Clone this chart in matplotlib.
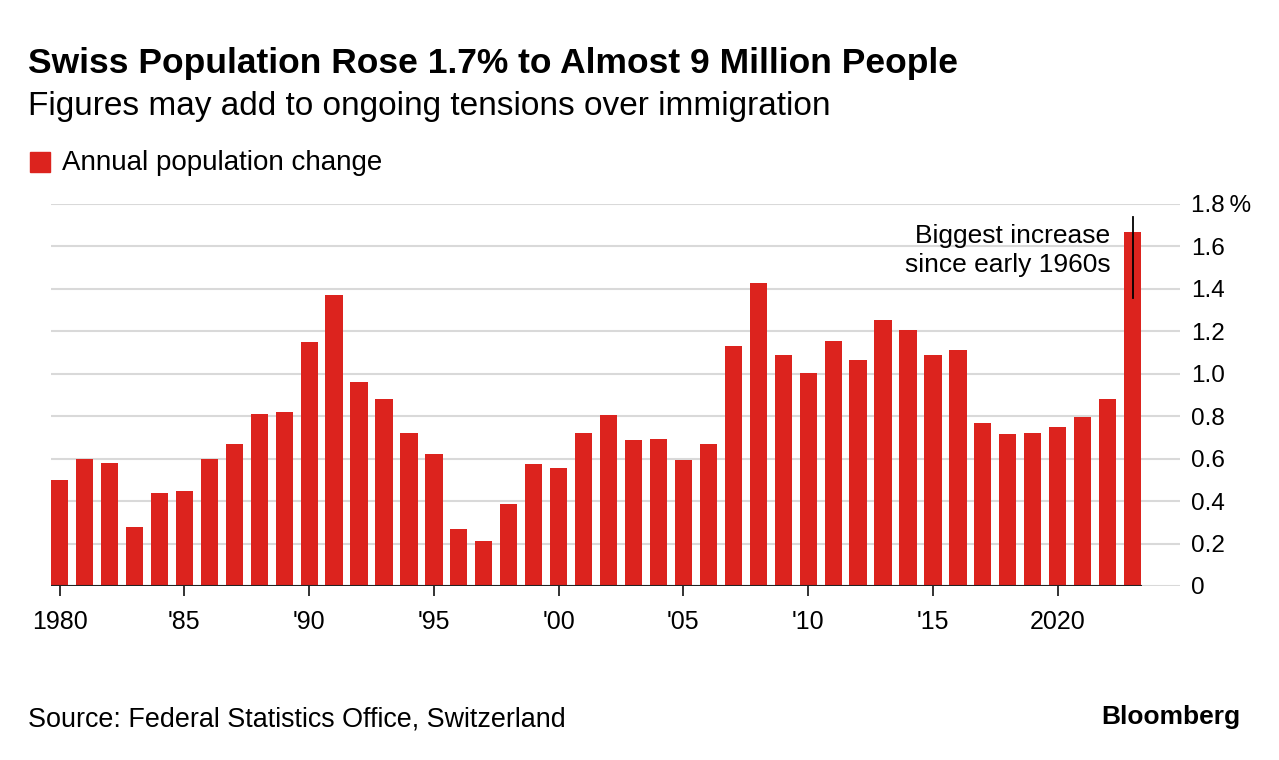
import numpy as np
import matplotlib
matplotlib.use("Agg")
import matplotlib.pyplot as plt

plt.rcParams['font.family'] = ['Liberation Sans', 'DejaVu Sans']

# annual population change, %
years = np.arange(1980, 2024)
change = [0.50, 0.60, 0.58, 0.28, 0.44, 0.45, 0.60, 0.67, 0.81, 0.82,
          1.15, 1.37, 0.96, 0.88, 0.72, 0.62, 0.27, 0.21, 0.385, 0.575,
          0.555, 0.72, 0.805, 0.69, 0.695, 0.595, 0.67, 1.13, 1.43, 1.09,
          1.005, 1.155, 1.065, 1.255, 1.205, 1.09, 1.11, 0.77, 0.715, 0.72,
          0.75, 0.795, 0.88, 1.67]
xticks = [1980, 1985, 1990, 1995, 2000, 2005, 2010, 2015, 2020]
xtick_labels = ["1980", "'85", "'90", "'95", "'00", "'05", "'10", "'15", "2020"]
yticks = [0, 0.2, 0.4, 0.6, 0.8, 1.0, 1.2, 1.4, 1.6, 1.8]
ytick_labels = ["0", "0.2", "0.4", "0.6", "0.8", "1.0", "1.2", "1.4", "1.6", "1.8\u2009%"]

red = "#dc231e"
W, H = 1279, 760

fig = plt.figure(figsize=(W / 100, H / 100), dpi=100)
ax = fig.add_axes([51 / W, (H - 586) / H, (1180 - 51) / W, (586 - 204) / H])

bw = 0.69
ax.bar(years, change, width=bw, color=red, zorder=2)
ax.set_xlim(1980 - bw / 2, 2024.9)
ax.set_ylim(0, 1.8)

for s in ax.spines.values():
    s.set_visible(False)
ax.set_yticks(yticks)
ax.grid(axis='y', color='#d9d9d9', linewidth=1.5, zorder=0)
ax.axhline(0, xmin=0, xmax=(2023 + bw / 2 - (1980 - bw / 2)) / (2024.9 - (1980 - bw / 2)),
           color='#222222', linewidth=1.5, zorder=3)
ax.yaxis.tick_right()
ax.set_yticklabels(ytick_labels, fontsize=17.5, ha='left')
ax.tick_params(axis='y', length=0, pad=8)
ax.set_xticks(xticks)
ax.set_xticklabels(xtick_labels, fontsize=18)
ax.tick_params(axis='x', length=7, width=1.3, color='#222222', pad=10)

# annotation on the last bar
ax.plot([2023, 2023], [1.357, 1.74], color='black', linewidth=1.3, zorder=4, clip_on=False)
ax.text(2022.1, 1.58, "Biggest increase\nsince early 1960s", ha='right', va='center',
        fontsize=19, linespacing=1.25, zorder=4)

# titles
fig.text(28 / W, 1 - 64 / H, "Swiss Population Rose 1.7% to Almost 9 Million People",
         fontsize=25.5, fontweight='bold', va='center', ha='left')
fig.text(28 / W, 1 - 106 / H, "Figures may add to ongoing tensions over immigration",
         fontsize=24, va='center', ha='left')
fig.patches.append(plt.Rectangle((30 / W, 1 - 172 / H), 20 / W, 20 / H,
                                 transform=fig.transFigure, color=red))
fig.text(62 / W, 1 - 163 / H, "Annual population change", fontsize=20, va='center', ha='left')

fig.text(28 / W, 1 - 719 / H, "Source: Federal Statistics Office, Switzerland",
         fontsize=19.4, va='center', ha='left')
fig.text(1240 / W, 1 - 717 / H, "Bloomberg", fontsize=19, fontweight='bold',
         va='center', ha='right')

fig.savefig("out.png", dpi=100)
